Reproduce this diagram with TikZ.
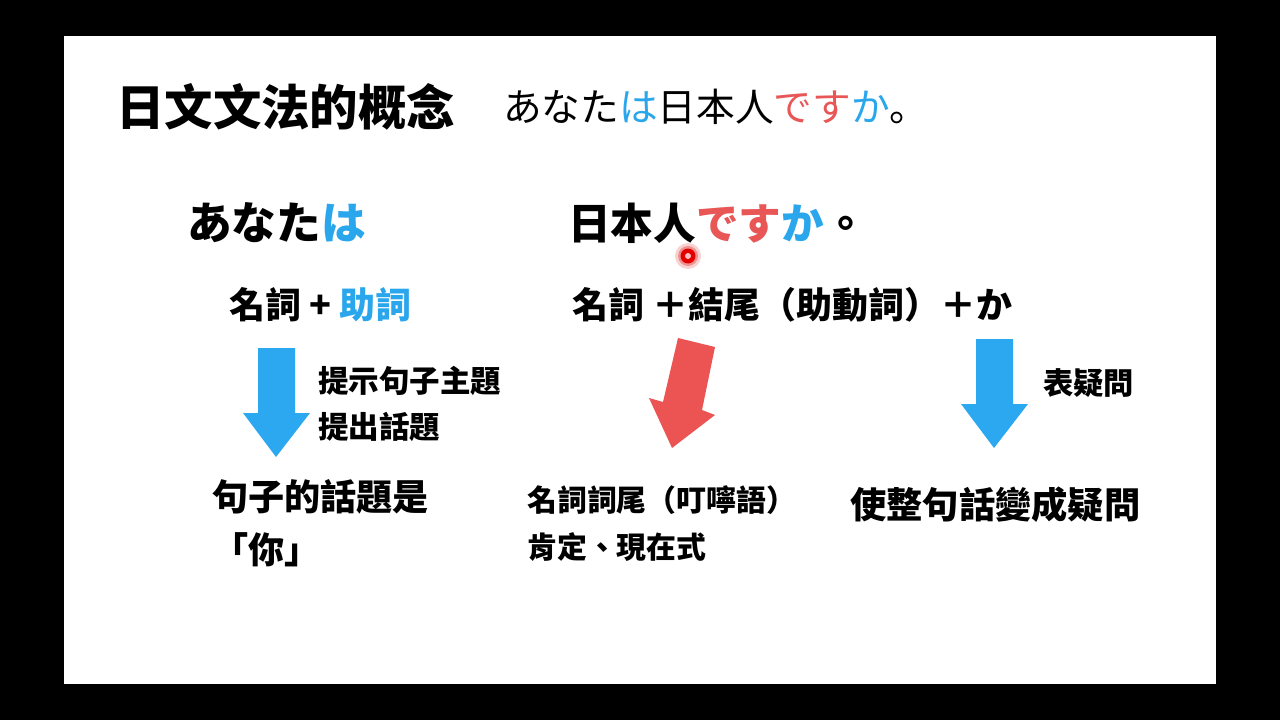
\documentclass[tikz,border=0pt]{standalone}
\usepackage{fontspec}
\newfontfamily\cjk{Noto Sans CJK TC}
\newfontfamily\cjkjp{Noto Sans CJK JP}
\definecolor{skyb}{RGB}{42,166,236}
\definecolor{redd}{RGB}{232,86,86}
\definecolor{arrb}{RGB}{44,168,240}
\definecolor{arrr}{RGB}{236,84,84}
\tikzset{
  txt/.style={anchor=west, inner sep=0pt, font=\cjk\bfseries},
}
\begin{document}
\begin{tikzpicture}[x=0.75pt,y=-0.75pt]
\useasboundingbox (0,0) rectangle (1280,720);
\fill[black] (0,0) rectangle (1280,720);
\fill[white] (64,36) rectangle (1216,684);
% title
\node[txt, font=\cjk\bfseries\fontsize{36.3pt}{40pt}\selectfont] (title) at (116,107) {日文文法的概念};
\node[anchor=west, inner sep=0pt, font=\cjkjp\fontsize{29pt}{32pt}\selectfont] (sub) at (503,107) {あなた\textcolor{skyb}{は}日本人\textcolor{redd}{です}\textcolor{skyb}{か}。};
% headers
\node[txt, font=\cjk\bfseries\fontsize{33.5pt}{38pt}\selectfont] (h1) at (187,223) {あなた\textcolor{skyb}{は}};
\node[txt, font=\cjk\bfseries\fontsize{32pt}{36pt}\selectfont] (h2) at (568,223) {日本人\textcolor{redd}{です}\textcolor{skyb}{か}。};
% laser dot
\fill[red!85!black, opacity=0.18] (688,256) circle (13);
\fill[red!85!black, opacity=0.3] (688,256) circle (10);
\fill[red!90!black] (688,256) circle (7.5);
\fill[red!25!white] (688,256) circle (3);
% structure lines
\node[txt, font=\cjk\bfseries\fontsize{27pt}{30pt}\selectfont] (s1) at (229,305) {名詞 + \textcolor{skyb}{助詞}};
\node[txt, font=\cjk\bfseries\fontsize{27pt}{30pt}\selectfont] (s2) at (572,305) {名詞 ＋結尾（助動詞）＋か};
% arrows
\fill[arrb] (258,348) -- (295,348) -- (295,413) -- (310,413) -- (276,457) -- (243,413) -- (258,413) -- cycle;
\fill[arrr] (678,338) -- (715,347) -- (702,410) -- (715,415) -- (672,448) -- (649,398) -- (663,402) -- cycle;
\fill[arrb] (976,339) -- (1013,339) -- (1013,404) -- (1028,404) -- (994,448) -- (961,404) -- (976,404) -- cycle;
% side labels
\node[txt, font=\cjk\bfseries\fontsize{22.9pt}{26pt}\selectfont] (l1) at (318,381) {提示句子主題};
\node[txt, font=\cjk\bfseries\fontsize{22.9pt}{26pt}\selectfont] (l2) at (318,427) {提出話題};
\node[txt, font=\cjk\bfseries\fontsize{22.7pt}{26pt}\selectfont] (l3) at (1043,383) {表疑問};
% results
\node[txt, font=\cjk\bfseries\fontsize{27.1pt}{30pt}\selectfont] (r1) at (212,497) {句子的話題是};
\node[txt, font=\cjk\bfseries\fontsize{27.1pt}{30pt}\selectfont] (r1b) at (212,550) {「你」};
\node[txt, font=\cjk\bfseries\fontsize{22.4pt}{26pt}\selectfont] (r2) at (527,500) {名詞詞尾（叮嚀語）};
\node[txt, font=\cjk\bfseries\fontsize{22.4pt}{26pt}\selectfont] (r2b) at (527,547) {肯定、現在式};
\node[txt, font=\cjk\bfseries\fontsize{27.2pt}{30pt}\selectfont] (r3) at (850,505) {使整句話變成疑問};
\end{tikzpicture}
\end{document}
